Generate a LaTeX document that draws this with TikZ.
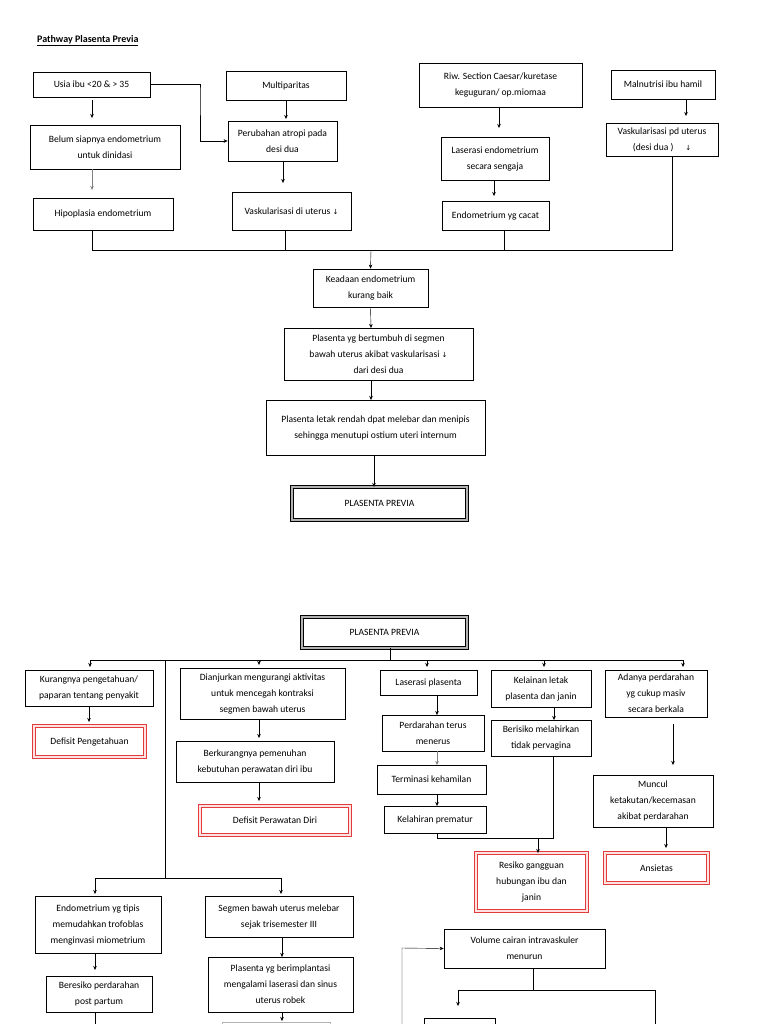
\documentclass[tikz,border=0pt]{standalone}
\usepackage{fontspec}
\setmainfont{Carlito}
\newfontfamily\symf{DejaVu Sans}
\usetikzlibrary{arrows.meta}
\newcommand{\dn}{{\symf\fontsize{7}{7}\selectfont ↓}}
\newcommand{\bx}[7][box]{\node[#1,minimum width={#5-#3},minimum height={#6-#4}] (#2) at ({(#3+#5)/2},{(#4+#6)/2}) {#7};}
\begin{document}
\begin{tikzpicture}[x=1pt,y=-1pt,
 box/.style={draw,thick,rectangle,align=center,inner sep=0pt,font=\fontsize{9.6}{16}\selectfont},
 rbox/.style={box,draw={rgb,255:red,225;green,60;blue,60},double={rgb,255:red,255;green,225;blue,225},double distance=1.4pt,line width=0.9pt},
 big/.style={box,draw=black,double=gray!60,double distance=1.2pt,line width=1.4pt},
 ar/.style={-{Stealth[length=4pt,width=3.5pt]},thin},
 ln/.style={thin}]
\clip (0,0) rectangle (768,1024);
\fill[white] (0,0) rectangle (768,1024);
\node[font=\bfseries\fontsize{10}{11}\selectfont,anchor=west,inner sep=0pt] (title) at (37,41) {\underline{Pathway Plasenta Previa}};
% top part
\bx{usia}{33}{72}{150}{97}{Usia ibu <20 \& > 35}
\bx{multi}{226}{71}{346}{100}{Multiparitas}
\bx{riw}{419}{63}{582}{107}{Riw. Section Caesar/kuretase\\ keguguran/ op.miomaa}
\bx{maln}{611}{70}{715}{99}{Malnutrisi ibu hamil}
\bx{belum}{30}{125}{180}{169}{Belum siapnya endometrium\\ untuk dinidasi}
\bx{perub}{228}{121}{337}{161}{Perubahan atropi pada\\ desi dua}
\bx{lasen}{441}{137}{549}{180}{Laserasi endometrium\\ secara sengaja}
\bx{vaspd}{606}{123}{718}{156}{Vaskularisasi pd uterus\\ (desi dua ) \quad\dn}
\bx{hipo}{33}{198}{173}{230}{Hipoplasia endometrium}
\bx{vasdi}{232}{192}{351}{230}{Vaskularisasi di uterus \dn}
\bx{cacat}{442}{201}{549}{230}{Endometrium yg cacat}
\bx{keadaan}{313}{269}{428}{307}{Keadaan endometrium\\ kurang baik}
\bx{tumbuh}{284}{328}{473}{380}{Plasenta yg bertumbuh di segmen\\ bawah uterus akibat vaskularisasi \dn\\ dari desi dua}
\bx{letak}{266}{400}{485}{455}{Plasenta letak rendah dpat melebar dan menipis\\ sehingga menutupi ostium uteri internum}
\bx[big]{pp1}{292}{487}{467}{520}{PLASENTA PREVIA}
\draw[ar] (92,100) -- (92,118);
\draw[ar,gray] (92,169) -- (92,190);
\draw[ar] (usia.east) -| (200,90) |- (perub.west);
\draw[ar] (286,100) -- (286,119);
\draw[ar] (283,161) -- (283,183);
\draw[ar] (499,107) -- (499,128);
\draw[ar] (494,180) -- (494,196);
\draw[ar] (686,99) -- (686,116);
\draw[ln] (92,230) -- (92,250) -- (672,250) -- (672,156);
\draw[ln] (285,230) -- (285,250);
\draw[ln] (504,230) -- (504,250);
\draw[ar] (371,250) -- (keadaan.north);
\draw[ar] (keadaan.south) -- (371,328);
\draw[ar] (371,380) -- (371,400);
\draw[ar] (374,455) -- (374,487);
% second part
\bx[big]{pp2}{302}{617}{467}{648}{PLASENTA PREVIA}
\bx{kurang}{25}{670}{153}{706}{Kurangnya pengetahuan/\\ paparan tentang penyakit}
\bx[rbox]{dp}{34}{726}{145}{757}{Defisit Pengetahuan}
\bx{anjur}{180}{668}{345}{719}{Dianjurkan mengurangi aktivitas\\ untuk mencegah kontraksi\\ segmen bawah uterus}
\bx{berk}{176}{741}{334}{782}{Berkurangnya pemenuhan\\ kebutuhan perawatan diri ibu}
\bx[rbox]{dpd}{200}{806}{350}{835}{Defisit Perawatan Diri}
\bx{lasp}{380}{670}{477}{695}{Laserasi plasenta}
\bx{perd}{382}{715}{484}{751}{Perdarahan terus\\ menerus}
\bx{term}{377}{765}{486}{794}{Terminasi kehamilan}
\bx{prem}{384}{806}{486}{833}{Kelahiran prematur}
\bx{kelain}{491}{670}{591}{707}{Kelainan letak\\ plasenta dan janin}
\bx{beris}{491}{720}{591}{756}{Berisiko melahirkan\\ tidak pervagina}
\bx{adanya}{605}{670}{707}{717}{Adanya perdarahan\\ yg cukup masiv\\ secara berkala}
\bx{muncul}{593}{775}{713}{827}{Muncul\\ ketakutan/kecemasan\\ akibat perdarahan}
\bx[rbox]{resiko}{476}{853}{587}{911}{Resiko gangguan\\ hubungan ibu dan\\ janin}
\bx[rbox]{ansi}{605}{853}{708}{883}{Ansietas}
\draw[ln] (390,648) -- (390,660);
\draw[ln] (90,660) -- (683,660);
\foreach \xx/\tg in {90/667,259/665,427/667,544/667,683/667}
  \draw[ar] (\xx,660) -- (\xx,\tg);
\draw[ar] (89,706) -- (89,722);
\draw[ar] (259,719) -- (259,738);
\draw[ar] (259,782) -- (259,801);
\draw[ar] (437,695) -- (437,715);
\draw[ar,gray] (437,751) -- (437,765);
\draw[ar] (437,794) -- (437,806);
\draw[ar] (554,707) -- (554,720);
\draw[ln] (437,833) -- (437,838) -- (553,838) -- (553,756);
\draw[ar] (538,838) -- (538,853);
\draw[ar] (673,724) -- (673,765);
\draw[ar] (666,827) -- (666,848);
% left branch
\draw[ln] (165,660) -- (165,878);
\draw[ln] (95,878) -- (281,878);
\bx{tipis}{35}{896}{161}{953}{Endometrium yg tipis\\ memudahkan trofoblas\\ menginvasi miometrium}
\bx{segmen}{205}{896}{353}{937}{Segmen bawah uterus melebar\\ sejak trisemester III}
\bx{beres}{46}{976}{152}{1012}{Beresiko perdarahan\\ post partum}
\bx{implant}{208}{957}{353}{1012}{Plasenta yg berimplantasi\\ mengalami laserasi dan sinus\\ uterus robek}
\bx{volume}{444}{929}{605}{968}{Volume cairan intravaskuler\\ menurun}
\draw[ar] (95,878) -- (95,894);
\draw[ar] (281,878) -- (281,894);
\draw[ar] (95,953) -- (95,970);
\draw[ln] (95,1012) -- (95,1030);
\draw[ar] (282,937) -- (282,957);
\draw[ar] (282,1012) -- (282,1021);
\draw[thick,gray!60] (222,1022) rectangle (330,1040);
\draw[ar] (402,1030) -- (402,948) -- (volume.west);
\draw[ln] (533,968) -- (533,990);
\draw[ln] (458,990) -- (655,990) -- (655,1030);
\draw[ar] (458,990) -- (458,1006);
\draw[thick] (424,1018) rectangle (495,1040);
\end{tikzpicture}
\end{document}
